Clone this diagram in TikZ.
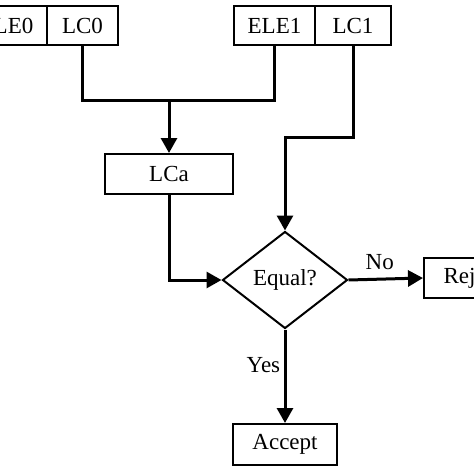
\documentclass[tikz,border=0pt]{standalone}
\usepackage{fontspec}
\setmainfont{Liberation Serif}
\usetikzlibrary{arrows.meta,shapes.geometric}

\begin{document}
\begin{tikzpicture}[x=1pt, y=-1pt,
    font=\fontsize{23pt}{27pt}\selectfont,
    box/.style={rectangle, draw, line width=2pt, minimum height=39pt, inner sep=0pt},
    flow/.style={line width=3pt, -{Triangle[length=15pt,width=16pt]}},
    wire/.style={line width=3pt}]
    \useasboundingbox (0,0) rectangle (474,474);
    \clip (0,0) rectangle (474,474);

    % ボックスを置く
    \node[box, minimum width=81pt] (ele0) at (6.5, 25.5) {ELE0};
    \node[box, minimum width=71pt] (lc0) at (82.5, 25.5) {LC0};
    \node[box, minimum width=81pt] (ele1) at (274.5, 25.5) {ELE1};
    \node[box, minimum width=76pt] (lc1) at (353, 25.5) {LC1};
    \node[box, minimum width=128pt, minimum height=40pt] (lca) at (169, 174) {LCa};
    \node[diamond, draw, line width=2pt, inner sep=0pt, minimum width=125pt, minimum height=97pt] (eq) at (285, 280) {Equal?};
    \node[box, minimum width=98pt, minimum height=40pt] (rej) at (473, 278) {Reject};
    \node[box, minimum width=104pt, minimum height=41pt] (acc) at (285, 444.5) {Accept};

    % 曲がり角
    \coordinate (j) at (169, 100);
    \coordinate (bend) at (285, 137);

    % エッジを引く
    \draw[wire] (lc0.south) -- (lc0.south |- j) -- (ele1.south |- j) -- (ele1.south);
    \draw[flow] (j) -- (lca.north);
    \draw[flow] (lc1.south) |- (bend) -- (eq.north);
    \draw[flow] (lca.south) |- (eq.west);
    \draw[flow] (eq.east) -- node[above, xshift=-6pt, yshift=4pt] {No} (rej.west);
    \draw[flow] (eq.south) -- node[left, pos=0.38] {Yes} (acc.north);
\end{tikzpicture}
\end{document}
